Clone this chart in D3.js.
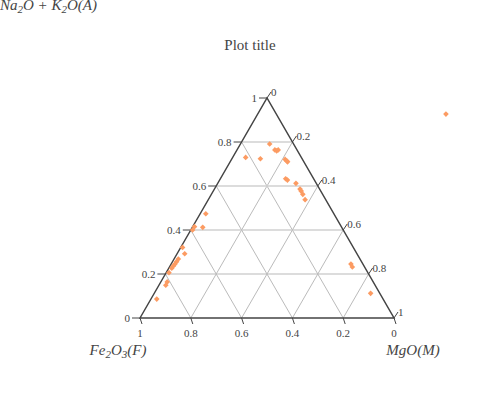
<!DOCTYPE html>
<html><head><meta charset="utf-8">
<script src="https://cdn.jsdelivr.net/npm/d3@7"></script>
<style>
body{margin:0;background:#fff}
svg text{font-family:"Times New Roman","Liberation Serif","DejaVu Serif",serif;fill:#444}
.tick{font-size:11px}
</style></head>
<body><svg id="vis" width="500" height="400"></svg>
<script>
// ternary samples: A = Na2O+K2O, F = Fe2O3, M = MgO (fractions)
var aVals = [0.791,0.764,0.760,0.764,0.730,0.724,0.721,0.714,0.710,0.633,0.627,0.612,0.586,0.577,0.562,0.538,
  0.474,0.415,0.412,0.400,0.321,0.292,0.268,0.256,0.245,0.236,0.226,0.206,0.164,0.149,0.086,0.245,0.232,0.112,0.927];
var mVals = [0.115,0.149,0.158,0.162,0.051,0.112,0.211,0.221,0.226,0.257,0.267,0.308,0.337,0.346,0.360,0.381,
  0.022,0.007,0.041,0.007,0.007,0.030,0.017,0.016,0.015,0.013,0.012,0.011,0.025,0.027,0.023,0.708,0.720,0.852,0.741];
var tickVals = [0,0.2,0.4,0.6,0.8,1];

var svg = d3.select("#vis");
var xs = d3.scaleLinear().domain([0,1]).range([140,394]);
var ys = d3.scaleLinear().domain([0,1]).range([318,98]);
function px(a,m){ return [xs(m + a/2), ys(a)]; }
var fmt = d3.format("");

// grid
var g = svg.append("g");
tickVals.slice(1,5).forEach(function(t){
  var p1 = px(t,0), p2 = px(t,1-t);
  g.append("line").attr("x1",p1[0]).attr("y1",p1[1]).attr("x2",p2[0]).attr("y2",p2[1]).attr("stroke","#d0d0d0").attr("stroke-width",1.5);
  p1 = px(0,t); p2 = px(1-t,t);
  g.append("line").attr("x1",p1[0]).attr("y1",p1[1]).attr("x2",p2[0]).attr("y2",p2[1]).attr("stroke","#bbb");
  p1 = px(0,1-t); p2 = px(1-t,0);
  g.append("line").attr("x1",p1[0]).attr("y1",p1[1]).attr("x2",p2[0]).attr("y2",p2[1]).attr("stroke","#bbb");
});

// triangle
var tri = [px(0,0),px(1,0),px(0,1)];
svg.append("path").attr("d","M"+tri.join("L")+"Z").attr("fill","none").attr("stroke","#444").attr("stroke-width",1.5);

// ticks
tickVals.forEach(function(t){
  var p = px(t,0);
  svg.append("line").attr("x1",p[0]-8).attr("y1",p[1]).attr("x2",p[0]).attr("y2",p[1]).attr("stroke","#444");
  svg.append("text").attr("class","tick").attr("x",p[0]-10).attr("y",p[1]+4).attr("text-anchor","end").text(fmt(t));
  p = px(1-t,t);
  svg.append("line").attr("x1",p[0]).attr("y1",p[1]).attr("x2",p[0]+4).attr("y2",p[1]-6).attr("stroke","#444");
  svg.append("text").attr("class","tick").attr("x",p[0]+4).attr("y",p[1]-2).text(fmt(t));
  p = px(0,1-t);
  svg.append("line").attr("x1",p[0]).attr("y1",p[1]).attr("x2",p[0]+2).attr("y2",p[1]+6).attr("stroke","#444");
  svg.append("text").attr("class","tick").attr("x",p[0]).attr("y",p[1]+19).attr("text-anchor","middle").text(fmt(t));
});

// points (rotated squares)
svg.selectAll("path.pt").data(aVals).enter().append("path").attr("class","pt")
  .attr("d", d3.symbol().type(d3.symbolSquare).size(16))
  .attr("transform", function(d,i){ var p = px(d,mVals[i]); return "translate("+p[0]+","+p[1]+") rotate(45)"; })
  .attr("fill","#fc9b62");

// labels
svg.append("text").attr("x",250).attr("y",50).attr("text-anchor","middle").style("font-size","15px").text("Plot title");
svg.append("text").attr("x",0).attr("y",10).style("font-size","15px").style("font-style","italic")
  .html('Na<tspan dy="3" font-size="11">2</tspan><tspan dy="-3">O + K</tspan><tspan dy="3" font-size="11">2</tspan><tspan dy="-3">O(A)</tspan>');
svg.append("text").attr("x",118).attr("y",355).attr("text-anchor","middle").style("font-size","15px").style("font-style","italic")
  .html('Fe<tspan dy="3" font-size="11">2</tspan><tspan dy="-3">O</tspan><tspan dy="3" font-size="11">3</tspan><tspan dy="-3">(F)</tspan>');
svg.append("text").attr("x",413).attr("y",355).attr("text-anchor","middle").style("font-size","15px").style("font-style","italic").text("MgO(M)");
</script></body></html>
